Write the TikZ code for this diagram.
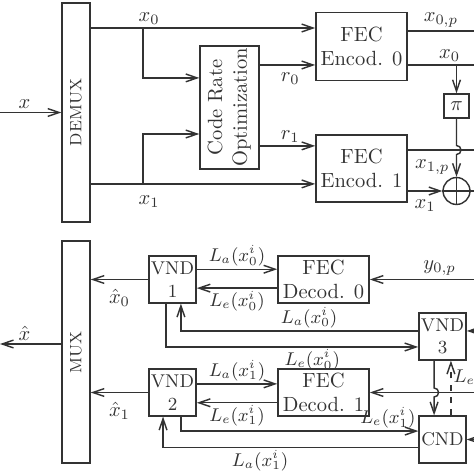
\documentclass[tikz,border=0pt]{standalone}
\usepackage{graphicx}
\usetikzlibrary{arrows.meta,positioning,calc}

\begin{document}
\begin{tikzpicture}[x=0.0171cm, y=-0.0171cm, >={Straight Barb[length=5.5pt,width=3.8pt]},
    line width=0.7pt, color=black!80,
    blk/.style={draw, rectangle, align=center, inner sep=1pt},
    muxbox/.style={blk, minimum width=0.48cm, font=\footnotesize},
    fecbox/.style={blk, minimum width=1.56cm},
    ndbox/.style={blk, minimum width=0.8cm, minimum height=0.8cm, font=\small},
    lbl/.style={inner sep=1.5pt},
    llr/.style={inner sep=1pt, font=\small}]
\useasboundingbox (0,0) rectangle (474,474);

% transmitter
\node[muxbox, minimum height=3.75cm] (demux) at (76,112.5) {\rotatebox{90}{DEMUX}};
\node[blk, minimum width=1.01cm, minimum height=2.07cm] (code) at (229.5,107.5)
    {\rotatebox{90}{\begin{tabular}{@{}c@{}}Code Rate\\Optimization\end{tabular}}};
\node[fecbox, minimum height=1.17cm] (enc0) at (361.5,46.5) {FEC\\Encod. 0};
\node[fecbox, minimum height=1.15cm] (enc1) at (361.5,168.5) {FEC\\Encod. 1};
\node[blk, minimum width=0.43cm, minimum height=0.41cm] (perm) at (456.5,106) {$\pi$};
\node[draw, circle, minimum size=0.46cm, inner sep=0pt] (xor) at (456.5,191) {};
\draw (xor.north) -- (xor.south) (xor.west) -- (xor.east);

\coordinate (xin) at (0,112.5);
\coordinate (rim) at (474,0);
\coordinate (br) at (143,0);
\coordinate (p0) at ([yshift=9pt]enc0.west);
\coordinate (p1) at ([yshift=-9pt]enc0.west);
\coordinate (q0) at ([yshift=11pt]enc1.west);
\coordinate (q1) at ([yshift=-7.5pt]enc1.west);
\coordinate (c0) at ([yshift=14.4pt]code.west);
\coordinate (c1) at ([yshift=-12.9pt]code.west);

\draw[->] (xin) -- (demux.west) node[lbl, above, pos=.4] {$x$};
\draw[->] (demux.east |- p0) -- (p0) node[lbl, above, pos=.26] {$x_0$};
\draw[->] (demux.east |- q1) -- (q1) node[lbl, below=4pt, pos=.26] {$x_1$};
\draw[->] (br |- p0) -- (br |- c0) -- (c0);
\draw[->] (br |- q1) -- (br |- c1) -- (c1);
\draw[->] (code.east |- p1) -- (p1) node[lbl, below=2pt, pos=.55] {$r_0$};
\draw[->] (code.east |- q0) -- (q0) node[lbl, above, pos=.55] {$r_1$};

\coordinate (e0a) at ([yshift=7.5pt]enc0.east);
\coordinate (e0b) at ([yshift=-9pt]enc0.east);
\coordinate (e1a) at ([yshift=9pt]enc1.east);
\coordinate (jp) at (perm.south |- e1a);
\draw (e0a) -- (e0a -| rim) node[lbl, above, midway] {$x_{0,p}$};
\draw (e0b) -- (e0b -| rim) node[lbl, above, pos=.63] {$x_0$};
\draw[->] (perm |- e0b) -- (perm.north);
\draw (e1a) -- (e1a -| rim) node[lbl, below=3pt, pos=.37] {$x_{1,p}$};
\draw[->] (perm.south) -- ([yshift=2.2pt]jp) arc (90:-90:2.2pt) -- (xor.north);
\draw[->] (enc1.east |- xor) -- (xor.west) node[lbl, below=2.5pt, midway] {$x_1$};
\draw (xor.east) -- (xor.east -| rim);

% receiver
\node[muxbox, minimum height=3.8cm] (mux) at (76,352) {\rotatebox{90}{MUX}};
\node[ndbox] (vnd1) at (172.5,279.5) {VND\\1};
\node[ndbox] (vnd2) at (172.5,392.5) {VND\\2};
\node[fecbox, minimum height=0.8cm] (dec0) at (323.5,279.5) {FEC\\Decod. 0};
\node[fecbox, minimum height=0.8cm] (dec1) at (323.5,392.5) {FEC\\Decod. 1};
\node[ndbox] (vnd3) at (442.5,336.5) {VND\\3};
\node[ndbox] (cnd) at (442.5,439.5) {CND};

\coordinate (xout) at (0,344);
\draw[->] (mux.west |- xout) -- (xout) node[lbl, above, pos=.6] {$\hat{x}$};
\draw[->] (vnd1.west) -- (vnd1.west -| mux.east) node[lbl, below=3pt, midway] {$\hat{x}_0$};
\draw[->] (vnd2.west) -- (vnd2.west -| mux.east) node[lbl, below=3pt, midway] {$\hat{x}_1$};

\coordinate (v1a) at ([yshift=5pt]vnd1.east);
\coordinate (v1b) at ([yshift=-4.2pt]vnd1.east);
\coordinate (v2a) at ([yshift=4.2pt]vnd2.east);
\coordinate (v2b) at ([yshift=-5pt]vnd2.east);
\draw[->] (v1a) -- (v1a -| dec0.west) node[llr, above, midway] {$L_a(x_0^i)$};
\draw[->] (v1b -| dec0.west) -- (v1b) node[llr, below, midway] {$L_e(x_0^i)$};
\draw[->] (v2a) -- (v2a -| dec1.west) node[llr, above, midway] {$L_a(x_1^i)$};
\draw[->] (v2b -| dec1.west) -- (v2b) node[llr, below, midway] {$L_e(x_1^i)$};

\coordinate (v1u) at ([xshift=4.1pt]vnd1.south);
\coordinate (v1d) at ([xshift=-3.2pt]vnd1.south);
\coordinate (v2u) at ([xshift=-4.6pt]vnd2.south);
\coordinate (v2d) at ([xshift=4.1pt]vnd2.south);
\coordinate (v3a) at ([yshift=2.7pt]vnd3.west);
\coordinate (v3b) at ([yshift=-5.1pt]vnd3.west);
\coordinate (ca) at ([yshift=4.1pt]cnd.west);
\coordinate (cb) at ([yshift=-3.9pt]cnd.west);
\draw[->] (v3a) -| (v1u) node[llr, above, pos=.23] {$L_a(x_0^i)$};
\draw[->] (v1d) |- (v3b) node[llr, below, pos=.79] {$L_e(x_0^i)$};
\draw[->] (v2d) |- (ca) node[llr, above left, pos=1] {$L_e(x_1^i)$};
\draw[->] (cb) -| (v2u) node[llr, below, pos=.31] {$L_a(x_1^i)$};

\coordinate (v3r) at ([yshift=2.7pt]vnd3.east);
\coordinate (v3d) at ([xshift=-4.1pt]vnd3.south);
\coordinate (cu) at ([xshift=4.1pt]cnd.north);
\coordinate (jq) at (v3d |- dec1.east);
\draw[->] (dec0.east -| rim) -- (dec0.east) node[lbl, above, pos=.33] {$y_{0,p}$};
\draw[->] (v3r -| rim) -- (v3r);
\draw[->] (dec1.east -| rim) -- (dec1.east);
\draw[->] (cnd.east -| rim) -- (cnd.east);
\draw[->] (v3d) -- ([yshift=2.2pt]jq) arc (90:-90:2.2pt) -- (v3d |- cnd.north);
\draw[->, dashed] (cu) -- (cu |- vnd3.south) node[llr, right, pos=.7] {$L_e$};
\end{tikzpicture}
\end{document}
